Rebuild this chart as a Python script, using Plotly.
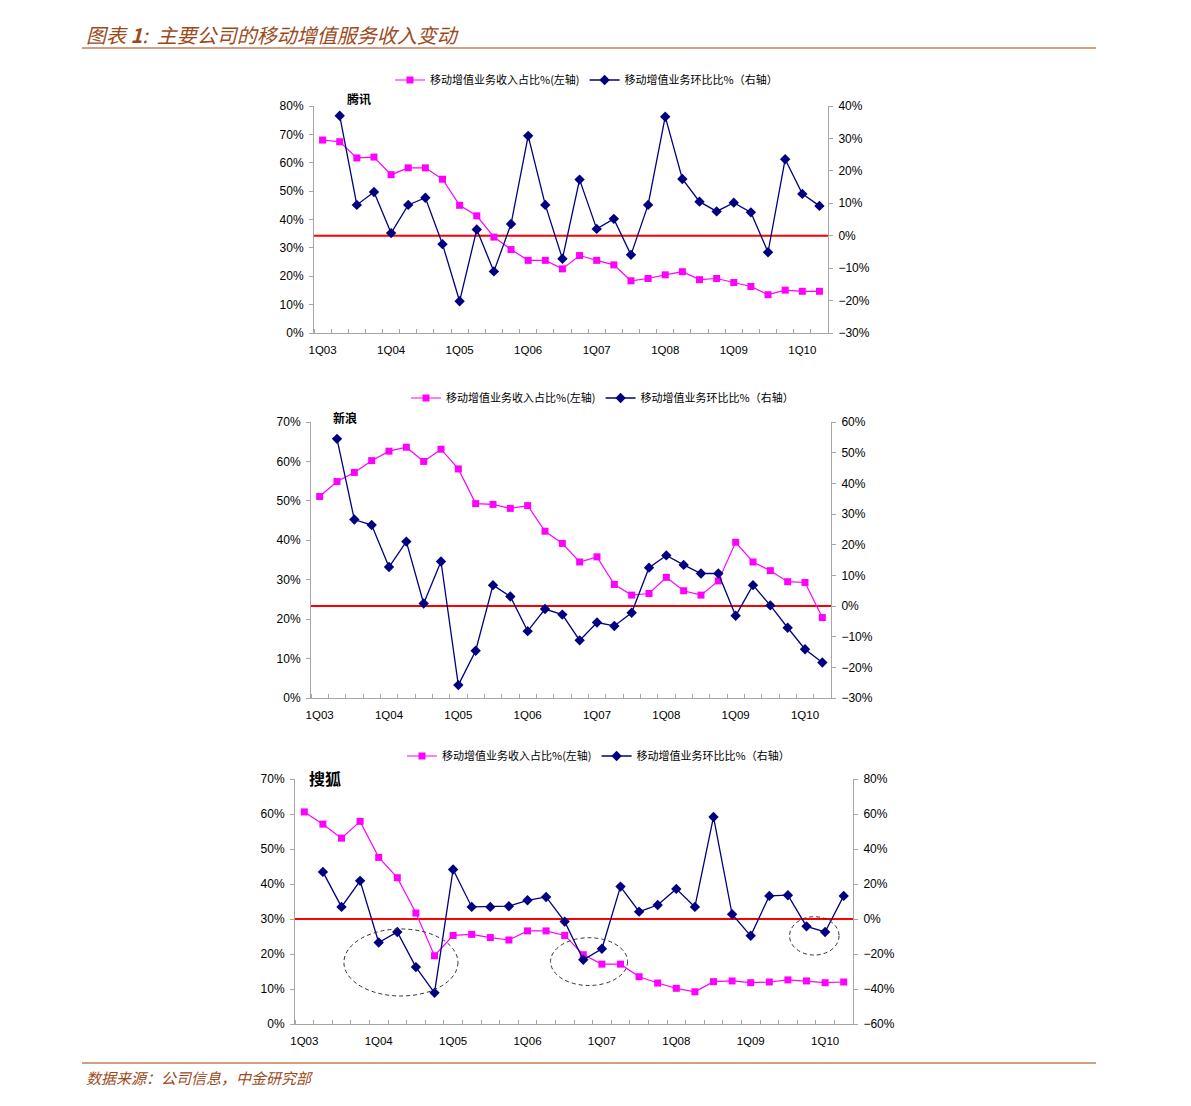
import plotly.graph_objects as go

# ---------------- data ----------------
quarters = ["1Q03", "2Q03", "3Q03", "4Q03", "1Q04", "2Q04", "3Q04", "4Q04",
            "1Q05", "2Q05", "3Q05", "4Q05", "1Q06", "2Q06", "3Q06", "4Q06",
            "1Q07", "2Q07", "3Q07", "4Q07", "1Q08", "2Q08", "3Q08", "4Q08",
            "1Q09", "2Q09", "3Q09", "4Q09", "1Q10", "2Q10"]
tick_labels = ["1Q03", "1Q04", "1Q05", "1Q06", "1Q07", "1Q08", "1Q09", "1Q10"]

share_name = "移动增值业务收入占比%(左轴)"
qoq_name = "移动增值业务环比比%（右轴）"

tencent_share = [68.0, 67.4, 61.7, 62.0, 55.8, 58.2, 58.2, 54.2, 45.0, 41.3,
                 33.8, 29.4, 25.6, 25.6, 22.6, 27.3, 25.6, 24.0, 18.4, 19.2,
                 20.5, 21.6, 18.8, 19.2, 17.8, 16.4, 13.5, 15.1, 14.7, 14.7]
tencent_qoq = [None, 37.0, 9.5, 13.5, 0.8, 9.5, 11.7, -2.6, -20.2, 1.9,
               -11.0, 3.6, 30.8, 9.5, -7.1, 17.3, 2.1, 5.2, -5.9, 9.5,
               36.7, 17.5, 10.5, 7.5, 10.2, 7.2, -5.1, 23.6, 12.9, 9.2]

sina_share = [51.1, 54.9, 57.2, 60.2, 62.6, 63.6, 60.0, 63.1, 58.1, 49.3,
              49.1, 48.1, 48.8, 42.3, 39.2, 34.5, 35.8, 28.8, 26.1, 26.5,
              30.6, 27.2, 26.1, 29.7, 39.5, 34.5, 32.3, 29.5, 29.3, 20.4]
sina_qoq = [None, 54.5, 28.2, 26.4, 12.7, 21.0, 0.8, 14.5, -25.8, -14.6,
            6.8, 3.1, -8.2, -1.0, -2.8, -11.2, -5.4, -6.5, -2.2, 12.5,
            16.5, 13.4, 10.6, 10.6, -3.2, 6.8, 0.2, -7.1, -14.1, -18.4]

sohu_share = [60.6, 57.1, 53.1, 57.9, 47.6, 41.8, 31.7, 19.5, 25.3, 25.6,
              24.7, 24.0, 26.6, 26.6, 25.3, 19.8, 17.1, 17.1, 13.5, 11.7,
              10.2, 9.2, 12.1, 12.3, 11.8, 12.0, 12.6, 12.3, 11.8, 12.0]
sohu_qoq = [None, 26.9, 6.9, 21.8, -13.4, -7.4, -27.5, -42.2, 28.3, 6.9,
            6.9, 7.3, 10.7, 12.6, -1.5, -23.3, -17.0, 18.5, 4.2, 8.0,
            17.2, 6.9, 58.3, 2.7, -9.6, 13.2, 13.6, -4.2, -7.4, 13.2]

companies = ["腾讯", "新浪", "搜狐"]

# highlighted regions on the Sohu chart (category index range, right-axis % range)
sohu_circle_x = [[2.13, 8.26], [13.24, 17.38], [26.09, 28.75]]
sohu_circle_y = [[-44.0, -5.7], [-38.0, -10.7], [-20.6, 1.3]]

title_text = "图表 <b>1</b>:  主要公司的移动增值服务收入变动"
source_text = "数据来源：公司信息，中金研究部"

# ---------------- layout helpers ----------------
W, H = 1191, 1106
def fx(px):
    return px / W
def fy(py):
    return 1 - py / H

PINK = "#FF00FF"
NAVY = "#000080"
AXIS = "#A6A6A6"
BROWN = "#9C4A1C"
RULE = "#C0815A"
CJK = "Noto Sans CJK SC"
LAT = "Liberation Sans, Arial, sans-serif"

xs = list(range(len(quarters)))
tickvals = [quarters.index(t) for t in tick_labels]

panels = [
    dict(share=tencent_share, qoq=tencent_qoq, name=companies[0],
         box=(314, 828, 106, 333), left=(0, 80, 10), right=(-30, 40, 10),
         leg=(390, 80), lab=(345, 99, 12)),
    dict(share=sina_share, qoq=sina_qoq, name=companies[1],
         box=(311, 831, 422, 698), left=(0, 70, 10), right=(-30, 60, 10),
         leg=(406, 398), lab=(331, 417, 12)),
    dict(share=sohu_share, qoq=sohu_qoq, name=companies[2],
         box=(295, 853, 779, 1024), left=(0, 70, 10), right=(-60, 80, 20),
         leg=(402, 756), lab=(307, 778, 16)),
]

fig = go.Figure()
layout = dict(width=W, height=H, autosize=False,
              margin=dict(l=0, r=0, t=0, b=0, pad=0, autoexpand=False),
              paper_bgcolor="white", plot_bgcolor="white",
              showlegend=True)
shapes = []
annotations = []

for i, p in enumerate(panels):
    xid = "x" if i == 0 else f"x{i+1}"
    yl = "y" if i == 0 else f"y{2*i+1}"
    yr = f"y{2*i+2}"
    leg = "legend" if i == 0 else f"legend{i+1}"
    x0, x1, y0, y1 = p["box"]

    fig.add_trace(go.Scatter(
        x=xs, y=p["share"], name=share_name, mode="lines+markers",
        line=dict(color=PINK, width=1.2),
        marker=dict(symbol="square", size=7, color=PINK),
        xaxis=xid, yaxis=yl, legend=leg, cliponaxis=False))
    fig.add_trace(go.Scatter(
        x=xs, y=p["qoq"], name=qoq_name, mode="lines+markers",
        line=dict(color=NAVY, width=1.3),
        marker=dict(symbol="diamond", size=8, color=NAVY),
        xaxis=xid, yaxis=yr, legend=leg, cliponaxis=False))

    xkey = "xaxis" if i == 0 else f"xaxis{i+1}"
    ylkey = "yaxis" if i == 0 else f"yaxis{2*i+1}"
    yrkey = f"yaxis{2*i+2}"

    layout[xkey] = dict(
        domain=[fx(x0), fx(x1)], anchor=yl, range=[-0.5, len(quarters) - 0.5],
        tickmode="array", tickvals=tickvals, ticktext=tick_labels,
        ticks="", showline=True, linecolor=AXIS, linewidth=1,
        showgrid=False, zeroline=False, ticklabelstandoff=6, automargin=False,
        tickfont=dict(family=LAT, size=11.5, color="black"),
        minor=dict(tick0=0.5, dtick=1, ticks="inside", ticklen=4,
                   tickcolor=AXIS, tickwidth=1, showgrid=False))
    lo, hi, dt = p["left"]
    layout[ylkey] = dict(
        domain=[fy(y1), fy(y0)], anchor=xid, range=[lo, hi], dtick=dt,
        tick0=0, ticksuffix="%", showline=True, linecolor=AXIS, linewidth=1,
        ticks="outside", ticklen=4, tickcolor=AXIS, showgrid=False,
        zeroline=False, ticklabelstandoff=3, automargin=False,
        tickfont=dict(family=LAT, size=12, color="black"))
    lo, hi, dt = p["right"]
    layout[yrkey] = dict(
        domain=[fy(y1), fy(y0)], anchor=xid, overlaying=yl, side="right",
        range=[lo, hi], dtick=dt, tick0=0, ticksuffix="%", showline=True,
        linecolor=AXIS, linewidth=1, ticks="outside", ticklen=4,
        tickcolor=AXIS, showgrid=False, zeroline=False,
        ticklabelstandoff=3, automargin=False,
        tickfont=dict(family=LAT, size=12, color="black"))

    lx, ly = p["leg"]
    layout[leg] = dict(
        orientation="h", x=fx(lx), y=fy(ly), xanchor="left", yanchor="middle",
        font=dict(family=CJK, size=11, color="black"), bgcolor="rgba(0,0,0,0)",
        itemwidth=30, tracegroupgap=0)

    # zero line of the right axis
    shapes.append(dict(type="line", xref=f"{xid} domain", yref=yr,
                       x0=0, x1=1, y0=0, y1=0,
                       line=dict(color="#FF0000", width=2), layer="below"))

    tx, ty, ts = p["lab"]
    annotations.append(dict(text=f"<b>{p['name']}</b>", xref="paper", yref="paper",
                            x=fx(tx), y=fy(ty), xanchor="left", yanchor="middle",
                            showarrow=False,
                            font=dict(family=CJK, size=ts, color="black")))

# dashed ellipses on the Sohu panel
for cx, cy in zip(sohu_circle_x, sohu_circle_y):
    shapes.append(dict(type="circle", xref="x3", yref="y6",
                       x0=cx[0], x1=cx[1], y0=cy[0], y1=cy[1],
                       line=dict(color="#303030", width=1, dash="4px,3px")))

# page title / source and rules
shapes.append(dict(type="line", xref="paper", yref="paper",
                   x0=fx(82), x1=fx(1096), y0=fy(48), y1=fy(48),
                   line=dict(color=RULE, width=1.5)))
shapes.append(dict(type="line", xref="paper", yref="paper",
                   x0=fx(82), x1=fx(1096), y0=fy(1063), y1=fy(1063),
                   line=dict(color=RULE, width=1.5)))
annotations.append(dict(text=title_text, xref="paper", yref="paper",
                        x=fx(84), y=fy(35), xanchor="left", yanchor="middle",
                        showarrow=False,
                        font=dict(family=CJK, size=20, color=BROWN, style="italic")))
annotations.append(dict(text=source_text, xref="paper", yref="paper",
                        x=fx(84), y=fy(1077), xanchor="left", yanchor="middle",
                        showarrow=False,
                        font=dict(family=CJK, size=15, color=BROWN, style="italic")))

layout["shapes"] = shapes
layout["annotations"] = annotations
fig.update_layout(**layout)

fig.write_html("out.html",
               post_script="document.body.style.margin='0';document.body.style.padding='0';")
